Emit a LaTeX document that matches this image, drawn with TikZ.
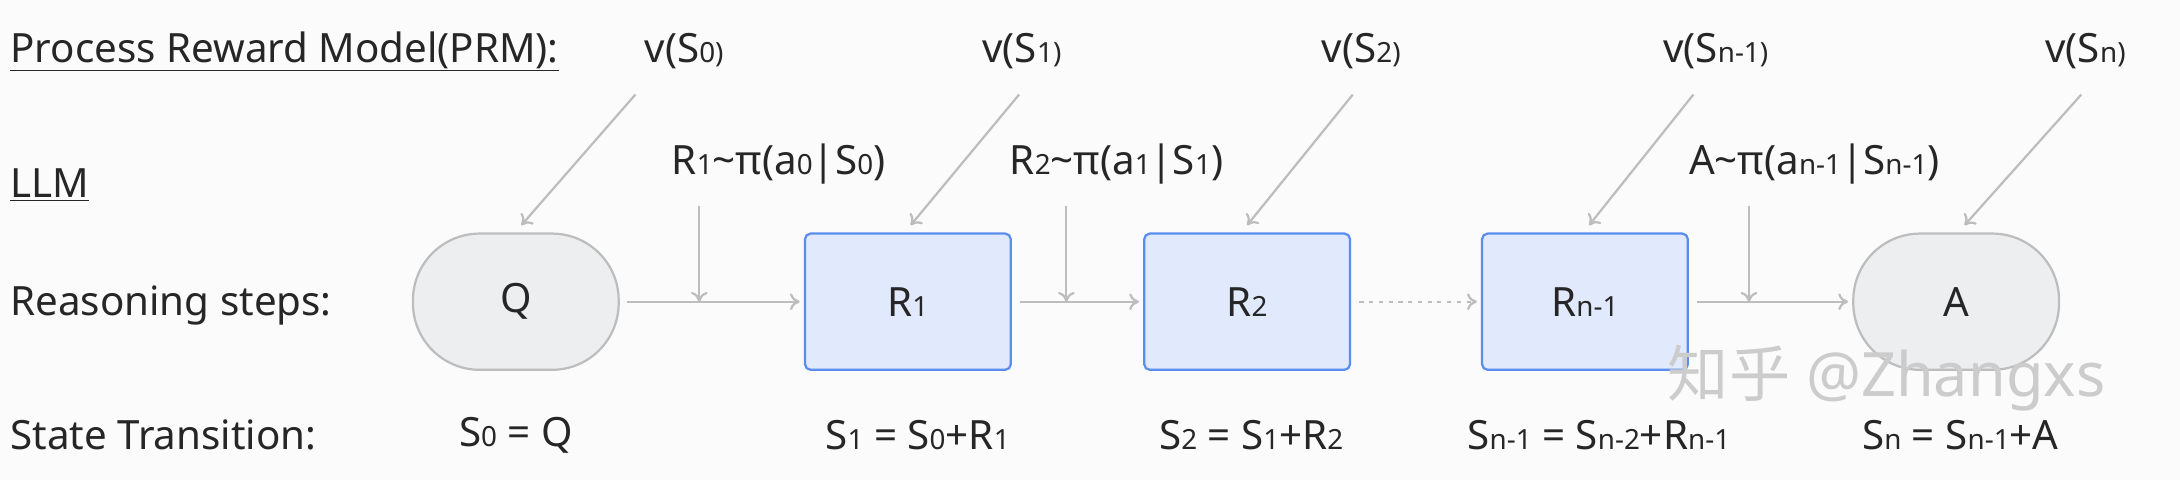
\documentclass[tikz,border=0pt]{standalone}
\usepackage{fontspec}
\setmainfont{Noto Sans}
\newfontfamily\cjk{Noto Sans CJK SC}
\usetikzlibrary{arrows.meta}
\definecolor{linegray}{HTML}{BDBDBD}
\definecolor{stepblue}{HTML}{5B8DEF}
\definecolor{stepfill}{HTML}{E1E9FC}
\definecolor{endfill}{HTML}{EDEEF0}
\newcommand{\idx}[1]{{\fontsize{20}{20}\selectfont #1}}
\begin{document}
\begin{tikzpicture}[x=1pt,y=-1pt,
  every node/.style={font=\fontsize{29}{34}\selectfont, text=black!85},
  endnode/.style={draw=linegray, line width=1.6pt, fill=endfill, rounded corners=48pt, minimum width=148pt, minimum height=98pt},
  stepnode/.style={draw=stepblue, line width=1.6pt, fill=stepfill, rounded corners=4pt, minimum width=148pt, minimum height=98pt},
  conn/.style={draw=linegray, line width=1.6pt, -{To[length=7pt,width=12pt]}}]
\useasboundingbox (0,0) rectangle (1568,345);
\fill[white!97!gray] (0,0) rectangle (1568,345);
% left labels
\node[anchor=west] (prm) at (4,37) {\underline{Process Reward Model(PRM):}};
\node[anchor=west] (llm) at (4,133) {\underline{LLM}};
\node[anchor=west] (rs) at (4,220) {Reasoning steps:};
\node[anchor=west] (st) at (4,313) {State Transition:};
% steps
\node[endnode] (Q) at (371,217) {Q};
\node[stepnode] (R1) at (653,217) {R\idx{1}};
\node[stepnode] (R2) at (897,217) {R\idx{2}};
\node[stepnode] (Rn) at (1140,217) {R\idx{n-1}};
\node[endnode] (A) at (1407,217) {A};
% PRM values
\node (v0) at (492,37) {v(S\idx{0)}};
\node (v1) at (735,37) {v(S\idx{1)}};
\node (v2) at (979,37) {v(S\idx{2)}};
\node (vn1) at (1234,37) {v(S\idx{n-1)}};
\node (vn) at (1500,37) {v(S\idx{n)}};
\draw[conn] (457,68) -- (375,162);
\draw[conn] (733,68) -- (655,162);
\draw[conn] (973,68) -- (897,162);
\draw[conn] (1218,68) -- (1143,162);
\draw[conn] (1497,68) -- (1413,162);
% policy
\node (p1) at (560,118) {R\idx{1}\textasciitilde π(a\idx{0}|S\idx{0})};
\node (p2) at (803,118) {R\idx{2}\textasciitilde π(a\idx{1}|S\idx{1})};
\node (pn) at (1305,118) {A\textasciitilde π(a\idx{n-1}|S\idx{n-1})};
\coordinate (j1) at (503,217);
\coordinate (j2) at (767,217);
\coordinate (jn) at (1258,217);
\draw[conn] (503,148) -- (j1);
\draw[conn] (767,148) -- (j2);
\draw[conn] (1258,148) -- (jn);
\draw[conn] ([xshift=5pt]Q.east) -- ([xshift=-3pt]R1.west);
\draw[conn] ([xshift=6pt]R1.east) -- ([xshift=-3pt]R2.west);
\draw[conn, dash pattern=on 3pt off 4pt] ([xshift=6pt]R2.east) -- ([xshift=-3pt]Rn.west);
\draw[conn] ([xshift=6pt]Rn.east) -- ([xshift=-3pt]A.west);
% states
\node (s0) at (371,313) {S\idx{0} = Q};
\node (s1) at (660,313) {S\idx{1} = S\idx{0}+R\idx{1}};
\node (s2) at (900,313) {S\idx{2} = S\idx{1}+R\idx{2}};
\node (sn1) at (1150,313) {S\idx{n-1} = S\idx{n-2}+R\idx{n-1}};
\node (sn) at (1410,313) {S\idx{n} = S\idx{n-1}+A};
% watermark
\node[text=gray!40, font=\fontsize{44}{48}\selectfont] (wm) at (1357,272) {{\cjk 知乎} @Zhangxs};
\end{tikzpicture}
\end{document}
